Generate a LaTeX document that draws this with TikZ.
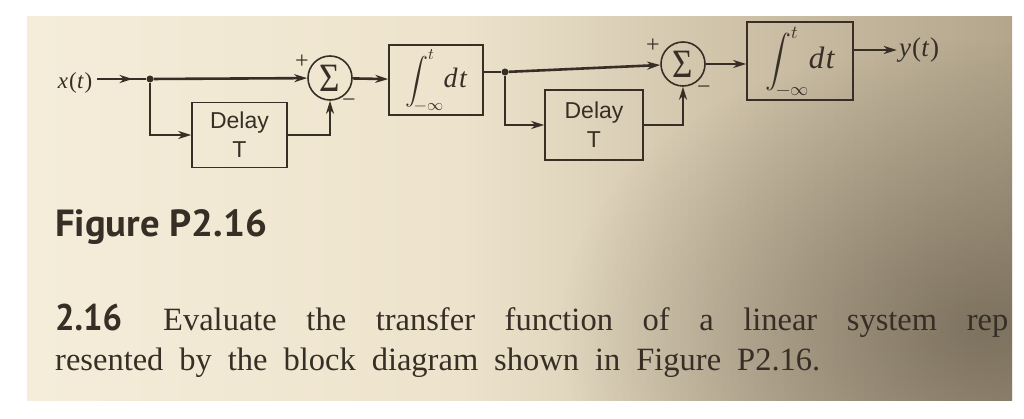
\documentclass[tikz,border=0pt]{standalone}
\usepackage{fontspec}
\usepackage{unicode-math}
\setmainfont{Liberation Serif}
\setmathfont{Latin Modern Math}
\newfontfamily\sansf{Liberation Sans}
\newfontfamily\capf{PT Sans}
\usepackage{graphicx}
\usetikzlibrary{arrows.meta,decorations.markings,fadings}
\definecolor{ink}{RGB}{55,46,38}
\definecolor{shadowc}{RGB}{70,60,48}
\pgfdeclarehorizontalshading{pageshade}{100bp}{rgb(0bp)=(0.96,0.93,0.855); rgb(25bp)=(0.96,0.93,0.855); rgb(47bp)=(0.93,0.89,0.80); rgb(62bp)=(0.80,0.75,0.65); rgb(75bp)=(0.70,0.65,0.55); rgb(100bp)=(0.70,0.65,0.55)}
\tikzfading[name=blob, inner color=transparent!0, outer color=transparent!100]
\newcommand{\intdt}[1]{$\displaystyle\int_{-\infty}^{t}\! \text{\fontsize{#1}{#1}\selectfont\itshape d\kern1.5pt t}$}
\begin{document}
\begin{tikzpicture}[x=1pt,y=-1pt,
  box/.style={draw=ink, line width=1.6pt, inner sep=0pt},
  delaybox/.style={box, minimum width=95pt, minimum height=65pt, align=center, text=ink, font=\sansf\fontsize{23}{29}\selectfont},
  intbox/.style={box, text=ink},
  sumc/.style={circle, draw=ink, line width=1.6pt, minimum size=44pt, inner sep=0pt, text=ink, font=\fontsize{35}{35}\selectfont},
  wire/.style={draw=ink, line width=2.6pt},
  arr/.style={-{Stealth[length=13pt,width=8pt,inset=4pt]}},
  jdot/.style={circle, fill=ink, minimum size=7pt, inner sep=0pt},
  pm/.style={text=ink, inner sep=0pt, font=\fontsize{24}{24}\selectfont},
  sig/.style={text=ink, inner sep=5pt, font=\fontsize{23}{23}\selectfont},
  captxt/.style={anchor=base west, inner sep=0pt, text=ink}
]
\useasboundingbox (0,0) rectangle (1024,419);
\fill[white] (0,0) rectangle (1024,419);
\shade[shading=pageshade] (27,17) rectangle (1012,400);
\begin{scope}
  \clip (27,17) rectangle (1012,400);
  \fill[shadowc, fill opacity=0.5, path fading=blob] (980,330) ellipse [x radius=420, y radius=290];
\end{scope}

% nodes
\node[sig] (xl) at (75,83) {\textit{x}\kern1pt(\kern0.5pt\textit{t}\kern0.5pt)};
\node[jdot] (j1) at (150,79) {};
\node[sumc] (s1) at (330,78) {\scalebox{1}[1.15]{Σ}};
\node[delaybox] (d1) at (239.5,135) {Delay\\T};
\node[intbox, minimum width=94pt, minimum height=70pt, font=\fontsize{23}{27}\selectfont] (i1) at (436,80) {\intdt{28}};
\node[jdot] (j2) at (505,72) {};
\node[delaybox, minimum width=98pt, minimum height=70pt] (d2) at (594,125) {Delay\\T};
\node[sumc] (s2) at (683,64) {\scalebox{1}[1.15]{Σ}};
\node[intbox, minimum width=106pt, minimum height=78pt, font=\fontsize{26}{30}\selectfont] (i2) at (800,61) {\intdt{31}};
\node[sig, font=\fontsize{27}{27}\selectfont, inner sep=2pt] (yl) at (919,50) {\textit{y}\kern1pt(\kern0.5pt\textit{t}\kern0.5pt)};

\node[pm] (p1) at (302,62) {+};
\node[pm] (m1) at (349,103) {−};
\node[pm] (p2) at (653,46) {+};
\node[pm] (m2) at (704,90) {−};

% connectors
\draw[wire, postaction={decorate, decoration={markings, mark=at position 0.72 with {\arrow{Stealth[length=13pt,width=8pt,inset=4pt]}}}}] (xl.east |- j1) -- (j1);
\draw[wire, arr] (j1) -- (s1);
\draw[wire, arr] (j1) |- (d1.west);
\draw[wire, arr] (d1.east) -| (s1.south);
\draw[wire, arr] (s1) -- (i1);
\draw[wire] (i1.east |- j2) -- (j2);
\draw[wire, arr] (j2) -- (s2);
\draw[wire, arr] (j2) |- (d2.west);
\draw[wire, arr] (d2.east) -| (s2.south);
\draw[wire, arr] (s2.east) -- (s2.east -| i2.west);
\draw[wire, arr] (i2.east |- yl) -- (yl.west);

% text
\node[captxt] (fig) at (55,237) {\resizebox*{212pt}{35pt}{\capf\bfseries Figure P2.16}};
\node[captxt] (num) at (55,330) {\resizebox*{67pt}{27pt}{\capf\bfseries 2.16}};
\node[captxt, font=\fontsize{32.5}{38}\selectfont] (l1) at (163,330) {\makebox[845pt][s]{Evaluate the transfer function of a linear system rep}};
\node[captxt, font=\fontsize{32.5}{38}\selectfont] (l2) at (55,370) {\makebox[765pt][s]{resented by the block diagram shown in Figure P2.16.}};
\end{tikzpicture}
\end{document}
